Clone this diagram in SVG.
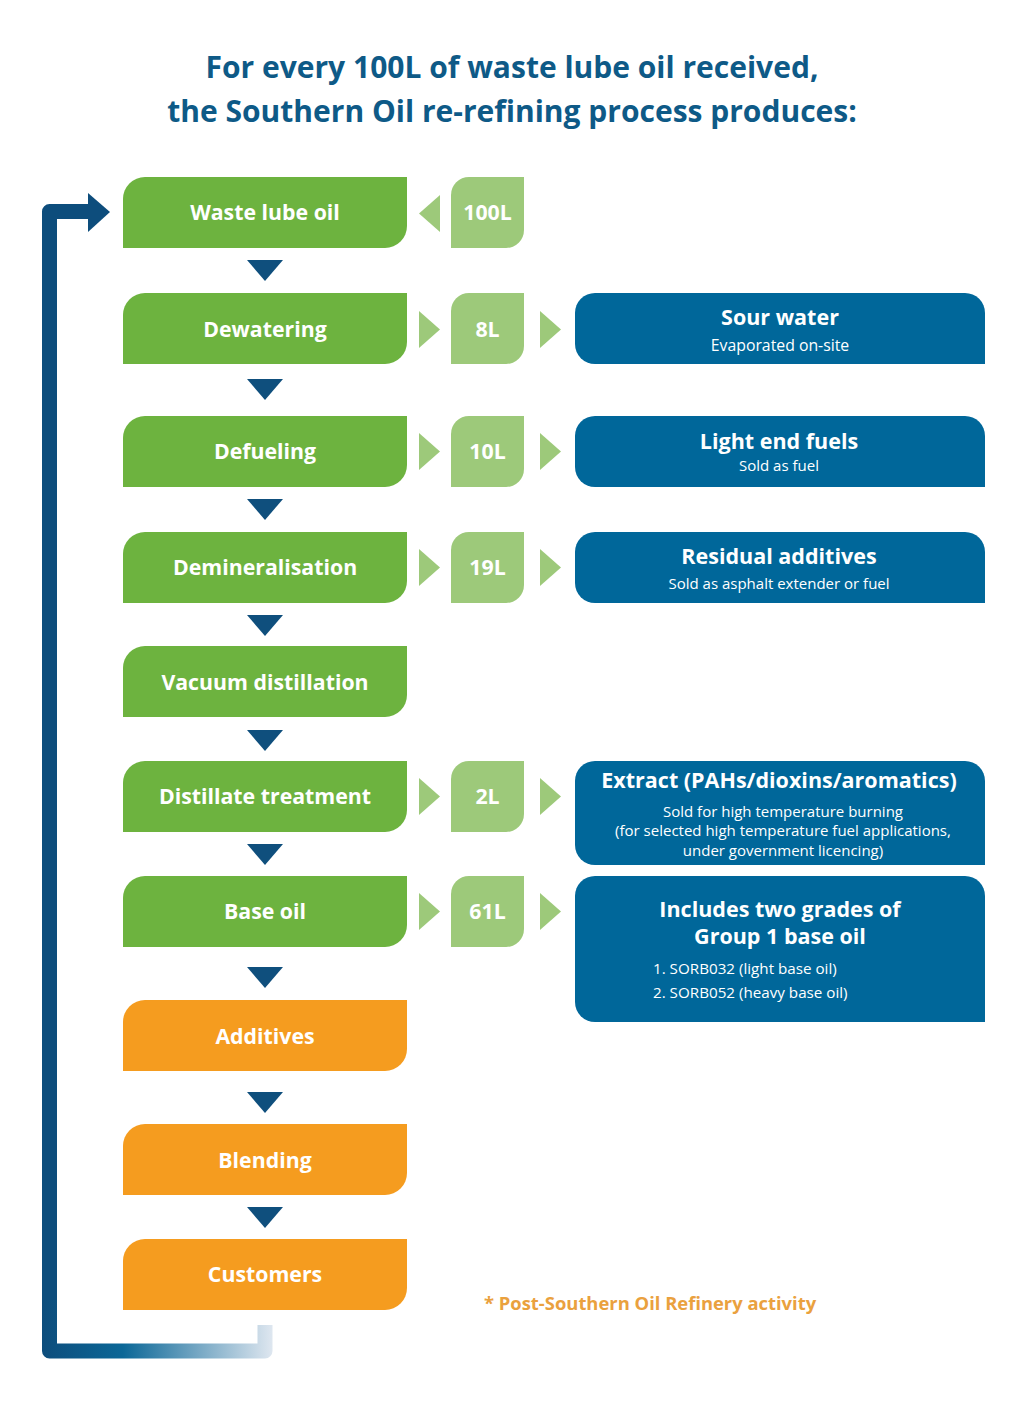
<svg xmlns="http://www.w3.org/2000/svg" xmlns:xlink="http://www.w3.org/1999/xlink" width="1024" height="1402" viewBox="0 0 1024 1402">
<style>
.title{font-family:"Open Sans","Liberation Sans",sans-serif;font-weight:700;font-size:30px;fill:#0e5a87;text-anchor:middle}
.g{fill:#6db33f}
.o{fill:#f59c1f}
.lg{fill:#9dc97a}
.bl{fill:#00679a}
.dt{fill:#0f4f7d}
.bt{font-family:"Open Sans","Liberation Sans",sans-serif;font-weight:700;font-size:21.3px;fill:#ffffff;text-anchor:middle}
.ht{font-family:"Open Sans","Liberation Sans",sans-serif;font-weight:700;font-size:21.5px;fill:#ffffff;text-anchor:middle}
.st{font-family:"Open Sans","Liberation Sans",sans-serif;font-size:15px;fill:#ffffff;text-anchor:middle}
.lt{font-family:"Open Sans","Liberation Sans",sans-serif;font-size:15.2px;fill:#ffffff}
.fn{font-family:"Open Sans","Liberation Sans",sans-serif;font-weight:700;font-size:18.4px;fill:#eaa13e}
</style>
<defs>
<path id="box" d="M22,0 H284 V49 A22,22 0 0 1 262,71 H0 V22 A22,22 0 0 1 22,0 Z"/>
<path id="sbox" d="M18,0 H73 V53 A18,18 0 0 1 55,71 H0 V18 A18,18 0 0 1 18,0 Z"/>
<path id="tr" d="M0,0 L21,18.5 L0,37 Z"/>
<path id="tl" d="M21,0 L0,18.5 L21,37 Z"/>
<path id="td" d="M0,0 H36 L18,21 Z"/>
<linearGradient id="lg1" gradientUnits="userSpaceOnUse" x1="42" y1="0" x2="273" y2="0">
<stop offset="0" stop-color="#0d4d7c"/>
<stop offset="0.35" stop-color="#0b6797"/>
<stop offset="1" stop-color="#dfe7f0"/>
</linearGradient>
</defs>
<rect width="1024" height="1402" fill="#ffffff"/>
<text class="title" x="512" y="78">For every 100L of waste lube oil received,</text>
<text class="title" x="512" y="122">the Southern Oil re-refining process produces:</text>

<g id="connectors">
<path d="M49.5,1351 V211.5 H92" fill="none" stroke="#0d4d7c" stroke-width="15" stroke-linejoin="round"/>
<path d="M88,193 L110,212 L88,232 Z" fill="#0d4d7c"/>
<path d="M49.5,1300 V1351 H265 V1325" fill="none" stroke="url(#lg1)" stroke-width="15" stroke-linejoin="round"/>
<use href="#td" class="dt" x="247" y="260"/>
<use href="#td" class="dt" x="247" y="379"/>
<use href="#td" class="dt" x="247" y="499"/>
<use href="#td" class="dt" x="247" y="615"/>
<use href="#td" class="dt" x="247" y="730"/>
<use href="#td" class="dt" x="247" y="844"/>
<use href="#td" class="dt" x="247" y="967"/>
<use href="#td" class="dt" x="247" y="1092"/>
<use href="#td" class="dt" x="247" y="1207"/>
<use href="#tl" class="lg" x="419" y="195"/>
<use href="#tr" class="lg" x="419" y="311"/>
<use href="#tr" class="lg" x="540" y="311"/>
<use href="#tr" class="lg" x="419" y="433"/>
<use href="#tr" class="lg" x="540" y="433"/>
<use href="#tr" class="lg" x="419" y="549"/>
<use href="#tr" class="lg" x="540" y="549"/>
<use href="#tr" class="lg" x="419" y="778"/>
<use href="#tr" class="lg" x="540" y="778"/>
<use href="#tr" class="lg" x="419" y="893"/>
<use href="#tr" class="lg" x="540" y="893"/>
</g>

<g id="n-waste"><use href="#box" class="g" x="123" y="177"/><text class="bt" x="265" y="220">Waste lube oil</text></g>
<g id="n-dewatering"><use href="#box" class="g" x="123" y="293"/><text class="bt" x="265" y="337">Dewatering</text></g>
<g id="n-defueling"><use href="#box" class="g" x="123" y="416"/><text class="bt" x="265" y="459">Defueling</text></g>
<g id="n-demin"><use href="#box" class="g" x="123" y="532"/><text class="bt" x="265" y="575">Demineralisation</text></g>
<g id="n-vacuum"><use href="#box" class="g" x="123" y="646"/><text class="bt" x="265" y="690">Vacuum distillation</text></g>
<g id="n-distillate"><use href="#box" class="g" x="123" y="761"/><text class="bt" x="265" y="804">Distillate treatment</text></g>
<g id="n-baseoil"><use href="#box" class="g" x="123" y="876"/><text class="bt" x="265" y="919">Base oil</text></g>
<g id="n-additives"><use href="#box" class="o" x="123" y="1000"/><text class="bt" x="265" y="1044">Additives</text></g>
<g id="n-blending"><use href="#box" class="o" x="123" y="1124"/><text class="bt" x="265" y="1168">Blending</text></g>
<g id="n-customers"><use href="#box" class="o" x="123" y="1239"/><text class="bt" x="265" y="1282">Customers</text></g>

<g id="q-100"><use href="#sbox" class="lg" x="451" y="177"/><text class="bt" x="487.5" y="220">100L</text></g>
<g id="q-8"><use href="#sbox" class="lg" x="451" y="293"/><text class="bt" x="487.5" y="337">8L</text></g>
<g id="q-10"><use href="#sbox" class="lg" x="451" y="416"/><text class="bt" x="487.5" y="459">10L</text></g>
<g id="q-19"><use href="#sbox" class="lg" x="451" y="532"/><text class="bt" x="487.5" y="575">19L</text></g>
<g id="q-2"><use href="#sbox" class="lg" x="451" y="761"/><text class="bt" x="487.5" y="804">2L</text></g>
<g id="q-61"><use href="#sbox" class="lg" x="451" y="876"/><text class="bt" x="487.5" y="919">61L</text></g>

<g id="o-sour">
<path class="bl" d="M595,293 H965 A20,20 0 0 1 985,313 V364 H595 A20,20 0 0 1 575,344 V313 A20,20 0 0 1 595,293 Z"/>
<text class="ht" x="780" y="325">Sour water</text>
<text class="st" x="780" y="351" style="font-size:15.8px">Evaporated on-site</text>
</g>
<g id="o-light">
<path class="bl" d="M595,416 H965 A20,20 0 0 1 985,436 V487 H595 A20,20 0 0 1 575,467 V436 A20,20 0 0 1 595,416 Z"/>
<text class="ht" x="779" y="449">Light end fuels</text>
<text class="st" x="779" y="471">Sold as fuel</text>
</g>
<g id="o-residual">
<path class="bl" d="M595,532 H965 A20,20 0 0 1 985,552 V603 H595 A20,20 0 0 1 575,583 V552 A20,20 0 0 1 595,532 Z"/>
<text class="ht" x="779" y="564">Residual additives</text>
<text class="st" x="779" y="589">Sold as asphalt extender or fuel</text>
</g>
<g id="o-extract">
<path class="bl" d="M595,761 H965 A20,20 0 0 1 985,781 V865 H595 A20,20 0 0 1 575,845 V781 A20,20 0 0 1 595,761 Z"/>
<text class="ht" x="779" y="788">Extract (PAHs/dioxins/aromatics)</text>
<text class="st" x="783" y="817">Sold for high temperature burning</text>
<text class="st" x="783" y="836">(for selected high temperature fuel applications,</text>
<text class="st" x="783" y="856">under government licencing)</text>
</g>
<g id="o-base">
<path class="bl" d="M595,876 H965 A20,20 0 0 1 985,896 V1022 H595 A20,20 0 0 1 575,1002 V896 A20,20 0 0 1 595,876 Z"/>
<text class="ht" x="780" y="917">Includes two grades of</text>
<text class="ht" x="780" y="944">Group 1 base oil</text>
<text class="lt" x="653" y="974">1. SORB032 (light base oil)</text>
<text class="lt" x="653" y="998">2. SORB052 (heavy base oil)</text>
</g>

<text class="fn" x="484" y="1310">* Post-Southern Oil Refinery activity</text>
</svg>
